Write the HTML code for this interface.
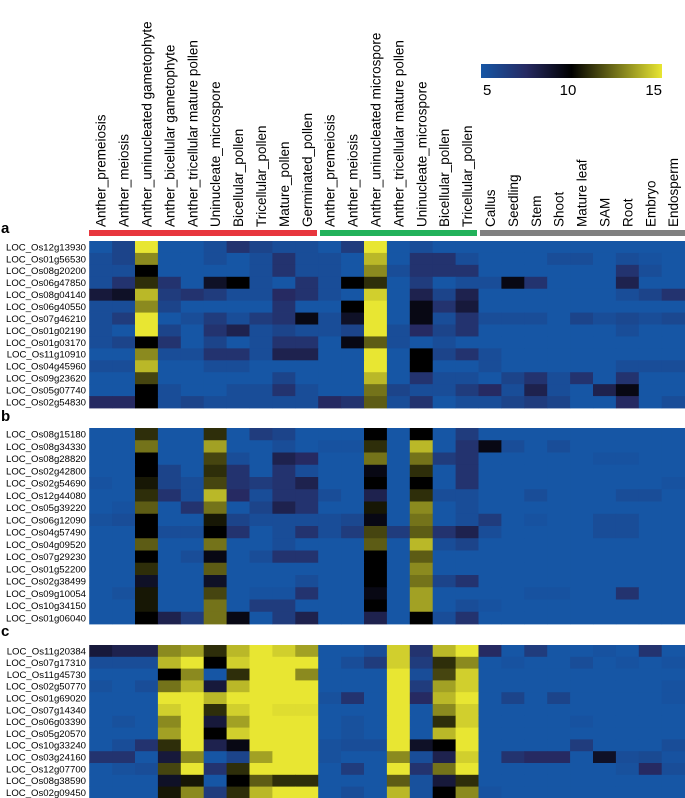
<!DOCTYPE html>
<html><head><meta charset="utf-8">
<style>
html,body{margin:0;padding:0;background:#fff;}
svg{display:block;font-family:"Liberation Sans",sans-serif;}
</style></head>
<body>
<svg id="chart" width="685" height="798" viewBox="0 0 685 798" xmlns="http://www.w3.org/2000/svg">
<defs>
<linearGradient id="cbar" x1="0" x2="1" y1="0" y2="0">
<stop offset="0" stop-color="#1656a5"/><stop offset="0.25" stop-color="#262a62"/><stop offset="0.5" stop-color="#000000"/><stop offset="0.75" stop-color="#74731a"/><stop offset="1" stop-color="#e8e632"/>
</linearGradient>
</defs>
<g>
<rect x="481" y="64" width="181" height="14" fill="url(#cbar)"/>
<text x="483" y="95" font-size="15">5</text>
<text x="568" y="95" font-size="15" text-anchor="middle">10</text>
<text x="662" y="95" font-size="15" text-anchor="end">15</text>
</g>
<g id="collabels"></g>
<rect x="89" y="230" width="228" height="6" fill="#e8363d"/>
<rect x="320" y="230" width="157" height="6" fill="#22b25a"/>
<rect x="480" y="230" width="205" height="6" fill="#808080"/>
<text x="1" y="233" font-size="15" font-weight="bold">a</text>
<text x="1" y="421" font-size="15" font-weight="bold">b</text>
<text x="1" y="636" font-size="15" font-weight="bold">c</text>
<g id="panels"></g>
</svg>
<script>
const columns = ["Anther_premeiosis","Anther_meiosis","Anther_uninucleated gametophyte","Anther_bicellular gametophyte","Anther_tricellular mature pollen","Uninucleate_microspore","Bicellular_pollen","Tricellular_pollen","Mature_pollen","Germinated_pollen","Anther_premeiosis","Anther_meiosis","Anther_uninucleated microspore","Anther_tricellular mature pollen","Uninucleate_microspore","Bicellular_pollen","Tricellular_pollen","Callus","Seedling","Stem","Shoot","Mature leaf","SAM","Root","Embryo","Endosperm"];
const genesA = ["LOC_Os12g13930","LOC_Os01g56530","LOC_Os08g20200","LOC_Os06g47850","LOC_Os08g04140","LOC_Os06g40550","LOC_Os07g46210","LOC_Os01g02190","LOC_Os01g03170","LOC_Os11g10910","LOC_Os04g45960","LOC_Os09g23620","LOC_Os05g07740","LOC_Os02g54830"];
const valuesA = [
[5,6,15,5,5,5.5,7,6,5.5,5.5,5,6.5,15,5,5.5,5,5,5,5,5,5,5,5,5,5,5],
[5.5,6,13,5,5,5.5,5,5.5,7,5.5,5.5,5,14,5,7,7,5.5,5,5,5,5.5,5.5,5,5.5,5.2,5],
[5.5,5.5,10,5,5,5,5,5.5,7,5.5,5.5,5,13,5.5,7,7,7,5,5,5,5,5,5,7,5.5,5],
[5.5,7,11,7,5,9,10,5.5,5,7,5.5,10,11,5,6.5,5,5.5,5.5,9.5,7,5,5,5,8,5,5],
[8.5,9,14,6.5,7,6.5,5.5,5.5,7.5,7,5.5,5,14.5,5,8,6,8,5,5,5,5,5,5,5.5,6,7],
[5.5,5.5,13,6,5,5,5,5,7,5,5,10,15,5,9.5,7,8.5,5,5,5,5,5,5,5,5,5],
[5.5,6.5,15,5,5.5,6.5,5.5,6.5,7,9.5,5.5,9,15,5,9.5,5.5,7,5.5,5.5,5.5,5,6,5.5,5.8,5.5,5.8],
[5.5,5,15,6,5,7,8,5.5,6,5.5,5.5,6,15,5.5,7.5,6,7,5,5,5,5,5,5,5.5,5,5],
[5.5,6,10,7,5,6,5,5.5,7,7,5,9.5,12,5.5,5,5.5,5,5,5,5,5,5,5,5,5,5],
[5,5,13,5.5,5.5,7,7,5.5,8,8,5,5,15,5,10,6,7,5.5,5,5,5,5,5,5,5,5],
[5.5,5.5,14,5,5,5.5,5.5,5,5,5,5,5,15,5,10,5,5,5.5,5,5,5,5,5,5.5,5.5,5.5],
[5,5,11.5,5,5,5,5,5,6,5,5,5,14,5,7,5.5,5.5,5,6,7,5.5,7,5,7,5,5],
[5,5,10,5.5,5,5,5.5,5.5,7,5.5,5,5,12.5,6,5.5,5.5,6.5,7.5,5.5,8,5.5,5,8,9.5,5,5],
[7.5,7.5,10,5.5,6,5.5,5.5,5.5,5.5,5.5,7.5,7,12,5.5,7,5,5.5,5.5,6,6.5,6,5,5,7.5,5,5.5]];
const genesB = ["LOC_Os08g15180","LOC_Os08g34330","LOC_Os08g28820","LOC_Os02g42800","LOC_Os02g54690","LOC_Os12g44080","LOC_Os05g39220","LOC_Os06g12090","LOC_Os04g57490","LOC_Os04g09520","LOC_Os07g29230","LOC_Os01g52200","LOC_Os02g38499","LOC_Os09g10054","LOC_Os10g34150","LOC_Os01g06040"];
const valuesB = [
[5,5,11,5,5,11,5,6.5,6,5,5,5,10,5,10,5,6.5,5,5,5,5,5,5,5,5,5],
[5,5,12.5,5,5,13.5,5,5,5.5,5,5.2,5.2,11,5,14,5,7,9.5,5.5,5,5.5,5,5,5,5,5],
[5,5,10,5,5,11.5,5.5,5,8,7.5,5,5,12.5,5,12.5,6.5,7,5,5,5,5,5,5.2,5.2,5,5],
[5,5,10,6,5,11,7,5,7,5.5,5,5,9.5,5,11,5,7,5,5,5,5,5,5,5,5,5],
[5.2,5,10.5,6,5.5,11.5,7,6.5,7,8,5,5,10,5,10,5,7,5,5,5,5,5,5,5,5,5.2],
[5,5,11,7,5.5,14,7.5,5.5,7,7,5.5,5,8,5,11,5.5,5.5,5,5,5.5,5,5,5,5.5,5.5,5],
[5,5.2,12,5,7,12.5,5,6,8,7,5,5,10.5,5,13,5,5.5,5,5,5,5,5,5,5,5,5],
[5.3,5.5,10,5,5,10.5,6,5.5,5.5,5.5,5.5,5.8,9.5,5,12.5,5,5.5,6.5,5,5.2,5,5,5.5,5.5,5,5],
[5,5,10,5.5,5.5,10,7,5,5.5,7,5.5,6.5,11.5,6.5,12,7,8,5.5,5,5,5,5,5.5,5.5,5,5],
[5,5,12,5,5,12.5,5,5,5.5,5,5,5,12,5,14,5.5,6,5,5,5,5,5,5,5,5,5],
[5,5,10,5,5.5,9.5,5,5.5,7,7,5,5,10,5,12,5,5,5,5,5,5,5,5,5,5,5],
[5,5,11,5,5,12,5,5,5,5,5,5,10,5,13,5,5,5,5,5,5,5,5,5,5,5],
[5,5,9,5,5,9,5,5,5,5.5,5,5,10,5,12.5,6,7,5,5,5,5,5,5,5,5,5],
[5,5.3,10.5,5,5,11.5,5,5.2,5.2,7,5,5,9.5,5,13.5,5,5,5,5,5.2,5.2,5,5,7,5,5],
[5,5,10.5,5,5,12.5,5,6.5,6.5,5,5,5,10,5,13.5,5,5.5,5.2,5,5,5,5,5,5,5,5],
[5,5,10,8,6.5,12.5,9.5,5,6.5,8,5,5,8,5,10,5.5,7,5,5,5,5,5,5,5,5,5]];
const genesC = ["LOC_Os11g20384","LOC_Os07g17310","LOC_Os11g45730","LOC_Os02g50770","LOC_Os01g69020","LOC_Os07g14340","LOC_Os06g03390","LOC_Os05g20570","LOC_Os10g33240","LOC_Os03g24160","LOC_Os12g07700","LOC_Os08g38590","LOC_Os02g09450"];
const valuesC = [
[8.5,8,8,13,13.5,11,14,15,14.5,13.5,5,5,5.5,14.5,7,14,15,7.5,5,6.5,5,5,5.2,5,7,5],
[5.5,5.5,5.5,14,15,10,14.5,15,15,15,5,5.5,6.5,14.5,6.5,11,13,5,5.2,5,5,5.5,5,5.2,5,5.2],
[5,5,5,10,13,5,11,15,15,13,5,5,5,15,5.5,11.5,14.5,5,5,5,5,5,5,5,5,5],
[5.3,5,5.5,12.5,14,8.5,14,15,15,15,5,5,5,15,6.5,13.5,14.5,5,5,5,5,5,5,5,5,5.2],
[5,5,5,15,15,14,15,15,15,15,5.3,7,5,15,7.5,14,15,5,6,5,6,5,5,5,5,5.2],
[5,5,5,14.5,15,11,14.5,15,14.8,14.8,5,5,5,15,5,13,14.5,5,5,5,5,5,5,5,5,5],
[5,5.3,5,13,15,8.5,13.5,15,15,15,5,5.3,5,15,5,11,14.5,5,5,5,5,5.2,5,5,5,5],
[5,5,5,13.5,15,10,14.5,15,15,15,5,5.3,5,15,5,14,15,5,5,5,5,5,5,5,5,5],
[5,5.5,7,11,15,8,9.5,15,15,15,5.3,5.5,5.5,15,9,10,15,5,5,5,5,6.5,5,5,5,5.5],
[7,7,5,8.5,13,5,6,13.5,15,15,5.3,5,5,13,5.5,8,14.5,5,7,7.5,7.5,5,9,5.5,5.7,5.2],
[5,5.3,5.5,11.5,15,7,11,15,15,15,5,6.5,5,15,7,12.5,15,5,5,5,5,5,5,5.3,7.5,5.5],
[5,5,5,9,10.5,5,10,12,11,11,5,5,5,12,5.3,8.5,11,5,5,5,5,5,5,5,5,5],
[5,5,5,10.5,13,6.5,11,14,15,15,5,5.5,5,14,5.3,10,13,5.2,5,5,5,5,5,5,5,5]];

const NS = "http://www.w3.org/2000/svg";
const X0 = 89.2, CW = 22.9;
function xPos(i){ return X0 + i*CW; }
const stops = [[5,[22,86,165]],[7.5,[38,42,98]],[10,[0,0,0]],[12.5,[116,115,26]],[15,[232,230,50]]];
function colorFor(v){
  v = Math.max(5, Math.min(15, v));
  for (let k=0;k<stops.length-1;k++){
    const [a,ca]=stops[k],[b,cb]=stops[k+1];
    if (v<=b){ const t=(v-a)/(b-a); const c=ca.map((q,j)=>Math.round(q+(cb[j]-q)*t)); return `rgb(${c[0]},${c[1]},${c[2]})`; }
  }
  return "rgb(232,230,50)";
}
const svg = document.getElementById("chart");
const colG = document.getElementById("collabels");
columns.forEach((c,i)=>{
  const t = document.createElementNS(NS,"text");
  
  
  const cx = xPos(i)+CW/2+5;
  t.setAttribute("transform", `translate(${cx},227) rotate(-90)`);
  t.setAttribute("font-size","13.5");
  t.textContent = c;
  colG.appendChild(t);
});
const panelsG = document.getElementById("panels");
function drawPanel(name, genes, values, top, rh){
  const g = document.createElementNS(NS,"g");
  
  
  panelsG.appendChild(g);
  genes.forEach((gene,r)=>{
    const y = top + r*rh;
    const lab = document.createElementNS(NS,"text");
    
    
    lab.setAttribute("x","86"); lab.setAttribute("y", y+rh/2+3.4);
    lab.setAttribute("text-anchor","end"); lab.setAttribute("font-size","9.6");
    lab.textContent = gene;
    g.appendChild(lab);
    values[r].forEach((v,i)=>{
      const rc = document.createElementNS(NS,"rect");
      
      
      rc.setAttribute("x", xPos(i)); rc.setAttribute("y", y);
      rc.setAttribute("width", CW+0.4); rc.setAttribute("height", rh+0.4);
      rc.setAttribute("fill", colorFor(v));
      g.appendChild(rc);
    });
  });
}
drawPanel("heatmap-panel-a", genesA, valuesA, 241, 11.93);
drawPanel("heatmap-panel-b", genesB, valuesB, 428, 12.25);
drawPanel("heatmap-panel-c", genesC, valuesC, 645, 11.8);
</script>
</body></html>
